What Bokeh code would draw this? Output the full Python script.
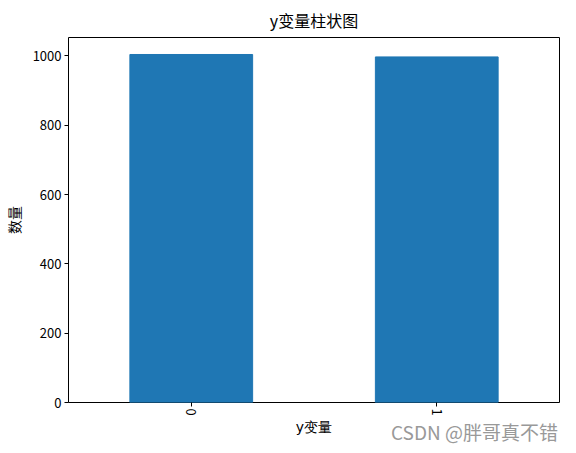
from bokeh.plotting import figure
from bokeh.models import Range1d, FixedTicker, Div
from bokeh.layouts import column
from bokeh.embed import file_html
from bokeh.resources import INLINE

# value counts of y
categories = [0, 1]
tick_labels = ["0", "1"]
counts = [1004, 997]

FONT = "Noto Sans CJK SC"

p = figure(width=560, height=437, output_backend="svg", toolbar_location=None,
           title="y变量柱状图", x_axis_label="y变量", y_axis_label="数量",
           x_range=Range1d(-0.5, 1.5), y_range=Range1d(0, 1053),
           min_border_left=57, min_border_right=1, min_border_top=29, min_border_bottom=0)

p.vbar(x=categories, top=counts, width=0.5, color="#1f77b4")

p.title.align = "center"
p.title.text_font = FONT
p.title.text_font_size = "16px"
p.title.text_font_style = "normal"
p.title.text_color = "black"
p.title.offset = 0
p.title.standoff = 11

p.grid.visible = False
p.outline_line_color = "black"
p.outline_line_width = 1

for ax in (p.xaxis, p.yaxis):
    ax.axis_line_color = None
    ax.major_tick_line_color = "black"
    ax.major_tick_out = 4
    ax.major_tick_in = 0
    ax.minor_tick_line_color = None
    ax.major_label_text_font = FONT
    ax.major_label_text_font_size = "13px"
    ax.major_label_text_color = "black"
    ax.major_label_standoff = 3
    ax.axis_label_text_font = FONT
    ax.axis_label_text_font_size = "14px"
    ax.axis_label_text_font_style = "normal"
    ax.axis_label_text_color = "black"

p.xaxis.ticker = FixedTicker(ticks=categories)
p.xaxis.major_label_overrides = {c: t for c, t in zip(categories, tick_labels)}
p.xaxis.major_label_orientation = "vertical"
p.xaxis.major_label_standoff = 2
p.xaxis.axis_label_standoff = 0
p.xaxis.axis_label_text_font = "DejaVu Sans"
p.yaxis.ticker = FixedTicker(ticks=[0, 200, 400, 600, 800, 1000])
p.yaxis.axis_label_standoff = 6

# watermark, pulled up over the bottom of the plot
note = Div(text="CSDN @胖哥真不错", width=185, height=18, margin=(-14, 0, 0, 391),
           styles={"font-family": FONT, "font-size": "19px", "line-height": "18px",
                   "color": "#999999", "white-space": "nowrap"})

layout = column(p, note)
open("out.html", "w").write(file_html(layout, INLINE))
